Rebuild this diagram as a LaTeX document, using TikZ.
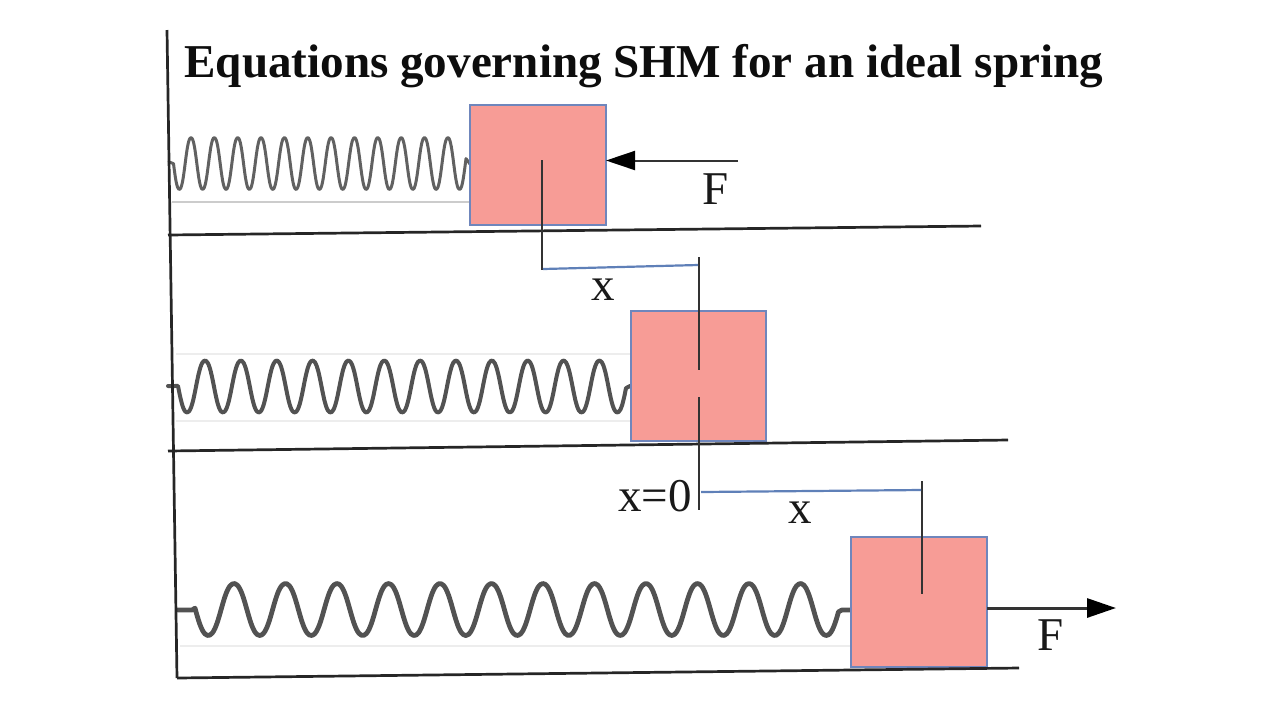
\documentclass[tikz,border=0pt]{standalone}
\usepackage{fontspec}
\setmainfont{Liberation Serif}
\usetikzlibrary{arrows.meta}
\definecolor{blockfill}{HTML}{F79C96}
\definecolor{blockedge}{HTML}{6F86BC}
\definecolor{bluerule}{HTML}{5F80B8}
\tikzset{
  declare function={wv(\t)=(cos(\t)-0.03*cos(3*\t))/0.97;},
  block/.style={draw=blockedge,fill=blockfill,line width=1pt,inner sep=0pt,outer sep=0pt,minimum width=#1},
  wall/.style={draw=black!85,line width=1.35pt},
  marker/.style={draw=black!80,line width=1pt},
  measure/.style={draw=bluerule,line width=1.1pt},
  shade1/.style={draw=black!20,line width=.6pt},
  shade2/.style={draw=black!7,line width=.6pt},
  force/.style={draw=black!80,line width=#1,-{Triangle[length=14.5pt,width=9.5pt,black]}},
  lbl/.style={font=\fontsize{23.5}{23.5}\selectfont,text=black!90,inner sep=0pt},
  coil/.style={draw=black!#1,line join=round,line cap=round}
}
\begin{document}
\begin{tikzpicture}[x=0.5pt,y=-0.5pt]
\useasboundingbox (0,0) rectangle (1280,720);
% title
\node[anchor=base west,inner sep=0pt,font=\bfseries\fontsize{23.55}{23.55}\selectfont,text=black!95] (title) at (184,77) {Equations governing SHM for an ideal spring};
% thin guide lines
\coordinate (g1a) at (172,202); \coordinate (g1b) at (470,202);
\draw[shade1] (g1a) -- (g1b);
\coordinate (g2a) at (176,354); \coordinate (g2b) at (630,354);
\coordinate (g2c) at (176,421); \coordinate (g2d) at (630,421);
\draw[shade2] (g2a) -- (g2b); \draw[shade2] (g2c) -- (g2d);
\coordinate (g3a) at (180,646); \coordinate (g3b) at (851,646);
\draw[shade2] (g3a) -- (g3b);
% springs
\draw[coil=62,line width=1.5pt] (169,162) -- plot[domain=173.5:466,samples=220,smooth] (\x,{163.5-26*wv(15.417*(\x-191))}) -- (470,164);
\draw[coil=68,line width=2pt] (168,386) -- (174,386) -- plot[domain=178:626,samples=240,smooth] (\x,{386.5-26*wv(10.04*(\x-205))}) -- (630,386);
\draw[coil=68,line width=2.4pt] (178,610) -- (192,610) -- plot[domain=195:838.5,samples=260,smooth] (\x,{609.5-26*wv(6.99*(\x-234))}) -- (842,610) -- (851,610);
% blocks
\node[block=68pt,minimum height=60pt] (b1) at (538,165) {};
\node[block=67.5pt,minimum height=65pt] (b2) at (698.5,376) {};
\node[block=68pt,minimum height=65pt] (b3) at (919,602) {};
% walls and floors
\coordinate (wt) at (167,30); \coordinate (wb) at (177,678);
\coordinate (f1a) at (168,235); \coordinate (f1b) at (981,226);
\coordinate (f2a) at (168,451); \coordinate (f2b) at (1008,440);
\coordinate (f3b) at (1019,668);
\draw[wall] (wt) -- (wb);
\draw[wall] (f1a) -- (f1b);
\draw[wall] (f2a) -- (f2b);
\draw[wall] (wb) -- (f3b);
% markers
\coordinate (m1a) at (542,160); \coordinate (m1b) at (542,270);
\coordinate (m2a) at (699,257); \coordinate (m2b) at (699,370);
\coordinate (m2c) at (699,397); \coordinate (m2d) at (699,510);
\coordinate (m3a) at (922,481); \coordinate (m3b) at (922,594);
\draw[marker] (m1a) -- (m1b);
\draw[marker] (m2a) -- (m2b);
\draw[marker] (m2c) -- (m2d);
\draw[marker] (m3a) -- (m3b);
\coordinate (d1a) at (543,269); \coordinate (d1b) at (698,265);
\coordinate (d2a) at (701,492); \coordinate (d2b) at (921,490);
\draw[measure] (d1a) -- (d1b);
\draw[measure] (d2a) -- (d2b);
% forces
\coordinate (fa) at (738,160.5);
\draw[force=1pt] (fa) -- (b1.east |- fa);
\coordinate (fb) at (1116,608);
\draw[force=1.5pt] (b3.east |- fb) -- (fb);
% labels
\node[lbl,anchor=base] (lf1) at (716,204) {F};
\node[lbl,anchor=base] (lx1) at (603,300) {x};
\node[lbl,anchor=base] (lx0) at (655,511) {x=0};
\node[lbl,anchor=base] (lx2) at (800,523) {x};
\node[lbl,anchor=base] (lf2) at (1051,650) {F};
\end{tikzpicture}
\end{document}
